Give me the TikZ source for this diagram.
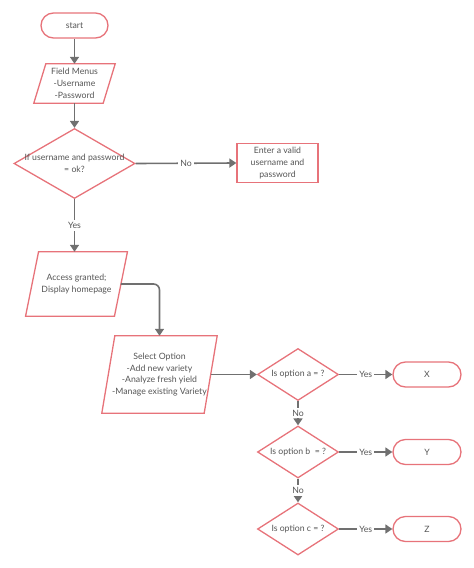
\documentclass[tikz,border=0pt]{standalone}
\usepackage{fontspec}
\setmainfont{Lato}
\usetikzlibrary{shapes.geometric,arrows.meta,calc}
\definecolor{pinkline}{HTML}{E7737A}
\definecolor{arrowgray}{HTML}{707070}
\definecolor{textgray}{HTML}{555555}
\tikzset{
  base/.style={font=\fontsize{8.7}{11.8}\selectfont, text=textgray, align=center, inner sep=0pt},
  termbox/.style={base, draw=pinkline, line width=1.3pt, rounded corners=12.5pt, minimum height=25pt},
  rectbox/.style={base, draw=pinkline, line width=1.3pt, minimum width=81pt, minimum height=39pt},
  parabox/.style={base, minimum width=#1},
  parashape/.style={draw=pinkline, line width=1.3pt, line join=miter},
  diabox/.style={shape=diamond, draw=pinkline, line width=1.3pt, inner sep=0pt, minimum width=#1},
  diatext/.style={base},
  conn/.style={draw=arrowgray, line width=1.6pt, -{Triangle[length=7pt,width=9pt]}},
  lab/.style={base, fill=white, inner sep=2pt}
}
\begin{document}
\begin{tikzpicture}[x=1pt,y=-1pt]
\useasboundingbox (0,0) rectangle (474,568);

% nodes
\node[termbox, minimum width=67pt] (start) at (74.5,25.5) {start};

\node[parabox=69pt, minimum height=39pt] (fm) at (74.5,83.5) {Field Menus\\-Username\\-Password};
\draw[parashape] ([xshift=-6pt]fm.south west) -- ([xshift=6pt]fm.north west) -- ([xshift=6pt]fm.north east) -- ([xshift=-6pt]fm.south east) -- cycle;

\node[diabox=121pt, minimum height=70pt] (d1) at (74.5,163.5) {};
\node[diatext] (d1t) at (d1) {If username and password\\= ok?};

\node[rectbox] (valid) at (277.5,163) {Enter a valid\\username and\\password};

\node[parabox=88.5pt, minimum height=64pt] (acc) at (76.5,284) {Access granted;\\Display homepage};
\draw[parashape] ([xshift=-6.5pt]acc.south west) -- ([xshift=6.5pt]acc.north west) -- ([xshift=6.5pt]acc.north east) -- ([xshift=-6.5pt]acc.south east) -- cycle;

\node[parabox=102pt, minimum height=77pt] (sel) at (159.5,374.5) {Select Option\\-Add new variety\\-Analyze fresh yield\\-Manage existing Variety};
\draw[parashape] ([xshift=-6.5pt]sel.south west) -- ([xshift=6.5pt]sel.north west) -- ([xshift=6.5pt]sel.north east) -- ([xshift=-6.5pt]sel.south east) -- cycle;

\node[diabox=81pt, minimum height=52pt] (da) at (298,374.5) {};
\node[diatext] (dat) at (da) {Is option a = ?};
\node[diabox=81pt, minimum height=52pt] (db) at (298,452) {};
\node[diatext] (dbt) at (db) {Is option b\ \ = ?};
\node[diabox=81pt, minimum height=52pt] (dc) at (298,529) {};
\node[diatext] (dct) at (dc) {Is option c = ?};

\node[termbox, minimum width=68pt] (X) at (427,374.5) {X};
\node[termbox, minimum width=68pt] (Y) at (427,452) {Y};
\node[termbox, minimum width=68pt] (Z) at (427,529) {Z};

% connectors
\draw[conn] (start) -- (fm);
\draw[conn] (fm) -- (d1);
\draw[conn] (d1.east) -- node[lab] (no1) {No} (valid.west);
\draw[conn] (d1.south) -- node[lab, pos=0.5] (yes1) {Yes} (d1.south |- acc.north);
\draw[conn, rounded corners=6pt] (acc.east) -| (sel.north);
\draw[conn] (sel.east) -- (da.west);
\draw[conn] (da.east) -- node[lab] (yesa) {Yes} (X.west);
\draw[conn] (db.east) -- node[lab] (yesb) {Yes} (Y.west);
\draw[conn] (dc.east) -- node[lab] (yesc) {Yes} (Z.west);
\draw[conn] (da.south) -- node[lab] (noa) {No} (db.north);
\draw[conn] (db.south) -- node[lab] (nob) {No} (dc.north);
\end{tikzpicture}
\end{document}
